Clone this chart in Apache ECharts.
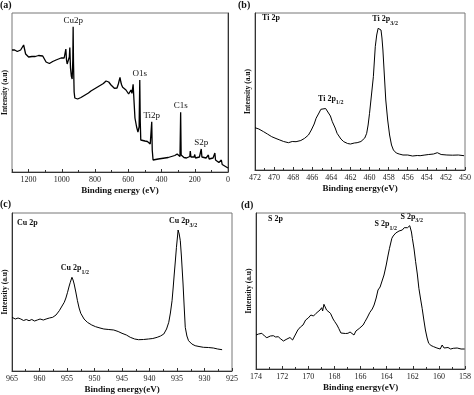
<!DOCTYPE html>
<html><head><meta charset="utf-8">
<script src="https://cdn.jsdelivr.net/npm/echarts@6/dist/echarts.min.js"></script>
<style>html,body{margin:0;padding:0;background:#fff}#c{width:474px;height:395px}</style>
</head><body><div id="c"></div>
<script>
// ---- Panel (a): survey spectrum ----
var aEnergy = [1300,1292,1284,1276,1268,1258,1248,1238,1230,1224,1218,1212,1200,1190,1180,1170,1160,1150,1140,1128,1115,1105,1095,1085,1075,1065,1055,1045,1035,1020,1005,994,986,980,976,972,968,964,960,955,952,948,943,938,934,932,930,926,922,915,905,895,885,870,855,840,825,810,795,780,765,750,740,734,726,718,710,704,695,684,676,668,660,654,650,645,640,634,624,614,606,598,590,584,578,574,571,566,560,550,542,539,535,531,528,525,515,500,485,475,468,463,459,456,451,440,420,400,380,360,340,320,306,296,289,285,282,277,265,250,238,230,227,223,212,204,200,196,185,172,165,161,157,145,132,122,118,114,102,90,82,79,75,65,55,45,40,35,25,15,8,0];
var aIntensity = [122,121,122,121,120.5,121,122,124,127,125,118,116,115,116,115.5,116.5,115.5,116,116.5,115.5,116,114,110,109,108.5,110,110.5,111.5,112,113,114,115,114,113,123,112,108,106,110,115,124.5,104,96,93,112,145.3,110,80,74,73.5,73,73.5,74.5,76,77.5,79,81,82.5,84,85.5,87,88.5,89.5,91,92,90,88,87,85,83.7,85,84,88,88.7,94.7,90,87,84.7,83,82,80,78,80,82,78.7,80,87.7,72,54,45,40,39,45,92,50,32,31.5,31,30.5,30,28,26,50.3,22,12,12.5,13,13.5,14,14.5,15.5,16.5,18,17,15.5,59.7,17,15,14.5,14,14.5,15.5,21,15,14.5,15,17.5,14,14.5,15,16,23,15,14.5,14,15.5,17,13,13,14,16,19,12,10.5,9.5,9,12,7.5,6,5.5,5,4];
var aPeaks = [["Cu2p",932,145.3],["O1s",531,92],["Ti2p",459,50.3],["C1s",285,59.7],["S2p",161,23]];

// ---- Panel (b): Ti 2p ----
var bEnergy = [472,471.6,471.1,470.7,470.25,469.8,469.4,469,468.5,468.1,467.7,467.2,466.8,466.4,466.1,465.8,465.6,465.3,465.1,464.9,464.6,464.4,464.1,463.9,463.6,463.4,463.0,462.7,462.3,462.0,461.6,461.3,460.9,460.7,460.5,460.3,460.15,460.0,459.8,459.6,459.4,459.25,459.1,458.95,458.8,458.7,458.6,458.45,458.3,458.1,457.9,457.7,457.5,457.2,456.9,456.5,456.0,455.5,455.0,454.7,454.2,453.8,453.3,452.9,452.5,451.9,451.3,450.7,450.1];
var bIntensity = [42.3,41,38.3,36,33.3,31.5,30,28.5,27.3,28.5,28.3,29.5,31.7,35,40,46,51.7,57,60.7,62.3,61.5,60,54,48.3,42,36.7,31,28.3,26.5,26,27,27.3,28.5,30,32,36.7,45,56.7,75,93.3,123.3,135,141.7,141,140,132,120,95,70,50,35,25,20,17,16,15,15,14,14.5,14.3,15,15.5,16,17.3,15.5,15,14.8,15,14.3];
var bPeaks = [["Ti 2p","1/2",464.9,62.3,8],["Ti 2p","3/2",459.1,141.7,7]];

// ---- Panel (c): Cu 2p ----
var cEnergy = [965,964.4,963.9,963.4,962.9,962.4,961.9,961.4,960.9,960.4,959.9,959.3,958.8,958.2,957.6,957.0,956.4,955.9,955.5,955.2,954.9,954.6,954.4,954.1,953.9,953.7,953.4,953.1,952.8,952.5,951.9,951.3,950.5,949.8,949.0,948.3,947.4,946.5,945.7,945.0,944.2,943.5,942.7,942.0,941.1,940.2,939.4,938.6,938.0,937.4,936.9,936.5,936.2,935.9,935.7,935.5,935.3,935.1,934.9,934.8,934.6,934.4,934.2,933.9,933.7,933.5,933.2,932.9,932.3,931.7,931.0,930.2,929.3,928.4,927.6,926.8];
var cIntensity = [53.7,52,53,52,50.5,51.5,50.3,51.5,50,51,52,51,52,53,53.7,56,60.3,65,68.7,73,78.7,85,88.7,93.7,91,87,79,70.3,63,57.7,52,48.7,46,44.3,43,42,41.5,41,39.5,37.7,36,33.7,32,31.3,31.5,32,32.5,33.7,35,37,42,48.7,58,70.3,83,97,110,123.7,135,141,137,130.3,115,87,65,43.7,35,30.3,27,25.3,24.5,23.7,23.5,23,22,21.3];
var cPeaks = [["Cu 2p","1/2",954.1,93.7,3],["Cu 2p","3/2",934.8,141,5]];

// ---- Panel (d): S 2p ----
var dEnergy = [174,173.8,173.55,173.35,173.17,172.9,172.67,172.5,172.3,172.1,171.9,171.7,171.55,171.4,171.2,171.0,170.8,170.6,170.4,170.2,170.0,169.8,169.6,169.4,169.25,169.1,168.97,168.9,168.8,168.6,168.45,168.3,168.1,167.97,167.8,167.67,167.5,167.37,167.15,166.96,166.8,166.66,166.5,166.35,166.28,166.1,165.96,165.8,165.66,165.5,165.28,165.1,164.96,164.8,164.66,164.5,164.4,164.2,164.03,163.9,163.78,163.6,163.5,163.4,163.3,163.16,163.05,162.9,162.8,162.65,162.5,162.4,162.3,162.23,162.1,162.03,161.9,161.78,161.65,161.53,161.4,161.28,161.15,161.03,160.9,160.78,160.6,160.4,160.15,159.9,159.75,159.7,159.6,159.5,159.3,159.1,158.9,158.6,158.3,158.03];
var dIntensity = [34,35,35.7,33,31.3,33,33.3,32,32.3,30,28,29.5,30.7,31.5,29,34,39,42,44,49,51,54,53,55.7,57,59,61.3,58,64.7,59,58,55.7,50,47.3,44,40.7,36,34.7,35.5,35.7,37,39,34,38,40,40.5,41.3,44,47.3,51,56.7,60,64,71,79,82,84,94,104,113,120.7,130.7,133,134.7,136,137.3,138,140,139,141.3,140.5,141.3,142,143.3,137,130.7,120,107.3,95,80.7,70,60.7,49,39,31,25.7,23.5,22.3,21,20,24,25.7,21,20,21.5,20,20.7,21,20,20];
var dPeaks = [["S 2p","1/2",163.3,136,-10],["S 2p","3/2",162.23,143.3,2]];

var SERIF = "'Liberation Serif','Times New Roman',serif";

function zip(xs, ys){ return xs.map(function(x,i){ return [x, ys[i]]; }); }

var grids = [
  {left:10, top:13, width:218, height:159},
  {left:255, top:13, width:214, height:157},
  {left:11, top:213, width:221, height:158},
  {left:256, top:213, width:213, height:156}
];
var xCfg = [
  {min:0, max:1300, interval:200, name:'Binding energy (eV)', showMax:false},
  {min:450, max:472, interval:2, name:'Binding energy(eV)', showMax:true},
  {min:925, max:965, interval:5, name:'Binding energy(eV)', showMax:true},
  {min:158, max:174, interval:2, name:'Binding energy(eV)', showMax:true}
];
var yMax = [159, 157, 158, 156];

var xAxes = xCfg.map(function(c, i){
  return {
    type:'value', gridIndex:i, inverse:true, min:c.min, max:c.max, interval:c.interval,
    name:c.name, nameLocation:'middle', nameGap:14,
    nameTextStyle:{fontFamily:SERIF, fontWeight:'bold', fontSize:9, color:'#111'},
    axisLine:{show:true, onZero:false, lineStyle:{color:'#333', width:1}},
    axisTick:{show:true, inside:true, length:3, lineStyle:{color:'#333'}},
    minorTick:{show:true, splitNumber:2, length:2, lineStyle:{color:'#333'}},
    axisLabel:{fontFamily:SERIF, fontSize:8, color:'#222', margin:4, showMinLabel:true, showMaxLabel:c.showMax, hideOverlap:false,
      formatter:function(v){ return String(v); }},
    splitLine:{show:false}
  };
});
var yAxes = yMax.map(function(m, i){
  return {
    type:'value', gridIndex:i, min:0, max:m,
    name:'Intensity (a.u)', nameLocation:'middle', nameGap:3, nameRotate:90,
    nameTextStyle:{fontFamily:SERIF, fontWeight:'bold', fontSize:7.5, color:'#111'},
    axisLine:{show:true, lineStyle:{color:'#333', width:1}},
    axisTick:{show:false}, axisLabel:{show:false}, splitLine:{show:false}
  };
});

function subLabels(peaks){
  return peaks.map(function(p){
    return {coord:[p[2], p[3]], label:{offset:[p[4],0], formatter:'{m|' + p[0] + '}{s|' + p[1] + '}'}};
  });
}
var richSub = {
  m:{fontFamily:SERIF, fontWeight:'bold', fontSize:8, color:'#111', verticalAlign:'bottom', padding:[0,0,3,0]},
  s:{fontFamily:SERIF, fontWeight:'bold', fontSize:6, color:'#111', verticalAlign:'bottom'}
};
function mp(data, rich){
  return {
    symbol:'circle', symbolSize:0, silent:true, animation:false,
    label:{show:true, position:'top', distance:2, color:'#111', fontFamily:SERIF, fontSize:9, rich:rich},
    data:data
  };
}

var series = [
  {type:'line', xAxisIndex:0, yAxisIndex:0, data:zip(aEnergy,aIntensity), showSymbol:false, lineStyle:{color:'#000', width:1.3},
   markPoint: mp(aPeaks.map(function(p){ return {coord:[p[1],p[2]], label:{formatter:p[0]}}; }), undefined)},
  {type:'line', xAxisIndex:1, yAxisIndex:1, data:zip(bEnergy,bIntensity), showSymbol:false, lineStyle:{color:'#000', width:1}, markPoint: mp(subLabels(bPeaks), richSub)},
  {type:'line', xAxisIndex:2, yAxisIndex:2, data:zip(cEnergy,cIntensity), showSymbol:false, lineStyle:{color:'#000', width:1}, markPoint: mp(subLabels(cPeaks), richSub)},
  {type:'line', xAxisIndex:3, yAxisIndex:3, data:zip(dEnergy,dIntensity), showSymbol:false, lineStyle:{color:'#000', width:1}, markPoint: mp(subLabels(dPeaks), richSub)}
];

var panelLetters = [['(a)',0,0],['(b)',238,0],['(c)',0,199],['(d)',241,200]];
var panelTitles = [['Ti 2p',262,14],['Cu 2p',17,219],['S 2p',268,215]];
var graphic = [];
panelLetters.forEach(function(p){
  graphic.push({type:'text', left:p[1], top:p[2], style:{text:p[0], font:'bold 10px ' + SERIF, fill:'#111'}});
});
panelTitles.forEach(function(p){
  graphic.push({type:'text', left:p[1], top:p[2], style:{text:p[0], font:'bold 8px ' + SERIF, fill:'#111'}});
});

var chart = echarts.init(document.getElementById('c'), null, {renderer:'canvas'});
chart.setOption({
  animation:false,
  backgroundColor:'#fff',
  grid: grids.map(function(g){ return Object.assign({show:true, borderColor:'#777', borderWidth:1, containLabel:false}, g); }),
  xAxis:xAxes, yAxis:yAxes, series:series, graphic:graphic
});
</script></body></html>
